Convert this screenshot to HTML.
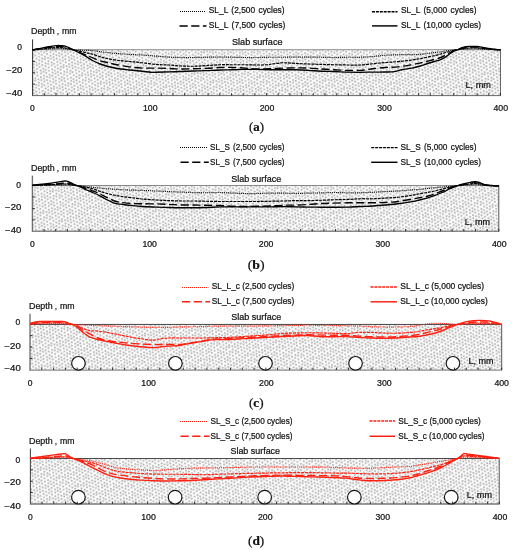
<!DOCTYPE html>
<html lang="en"><head><meta charset="utf-8"><title>Slab surface depth profiles</title>
<style>html,body{margin:0;padding:0;background:#fff;}svg{display:block;}text{font-family:"Liberation Sans", Arial, sans-serif;stroke:#111;stroke-width:0.22px;}text.cap,text.cap tspan{font-family:"Liberation Serif","Times New Roman",serif;}</style></head><body>
<svg width="512" height="550" viewBox="0 0 512 550">
<rect width="512" height="550" fill="#fff"/>
<defs><pattern id="stip" width="20.400" height="23.555" patternUnits="userSpaceOnUse" patternTransform="rotate(24)"><rect width="20.400" height="23.555" fill="#fdfdfd"/><circle cx="0.76" cy="0.85" r="0.97" fill="#ababab"/><circle cx="0.76" cy="24.40" r="0.97" fill="#ababab"/><circle cx="21.16" cy="0.85" r="0.97" fill="#ababab"/><circle cx="21.16" cy="24.40" r="0.97" fill="#ababab"/><circle cx="4.54" cy="0.77" r="0.97" fill="#ababab"/><circle cx="4.54" cy="24.33" r="0.97" fill="#ababab"/><circle cx="7.61" cy="0.87" r="0.97" fill="#ababab"/><circle cx="7.61" cy="24.43" r="0.97" fill="#ababab"/><circle cx="10.75" cy="0.81" r="0.97" fill="#ababab"/><circle cx="10.75" cy="24.36" r="0.97" fill="#ababab"/><circle cx="14.50" cy="1.03" r="0.97" fill="#ababab"/><circle cx="17.48" cy="0.64" r="0.97" fill="#ababab"/><circle cx="17.48" cy="24.20" r="0.97" fill="#ababab"/><circle cx="2.17" cy="3.99" r="0.97" fill="#ababab"/><circle cx="6.05" cy="3.38" r="0.97" fill="#ababab"/><circle cx="9.69" cy="4.12" r="0.97" fill="#ababab"/><circle cx="12.82" cy="3.84" r="0.97" fill="#ababab"/><circle cx="15.83" cy="3.36" r="0.97" fill="#ababab"/><circle cx="-0.88" cy="3.39" r="0.97" fill="#ababab"/><circle cx="19.52" cy="3.39" r="0.97" fill="#ababab"/><circle cx="0.55" cy="6.48" r="0.97" fill="#ababab"/><circle cx="20.95" cy="6.48" r="0.97" fill="#ababab"/><circle cx="3.82" cy="6.66" r="0.97" fill="#ababab"/><circle cx="7.55" cy="6.96" r="0.97" fill="#ababab"/><circle cx="11.02" cy="6.80" r="0.97" fill="#ababab"/><circle cx="14.40" cy="6.82" r="0.97" fill="#ababab"/><circle cx="17.77" cy="6.51" r="0.97" fill="#ababab"/><circle cx="2.90" cy="10.03" r="0.97" fill="#ababab"/><circle cx="6.17" cy="9.80" r="0.97" fill="#ababab"/><circle cx="9.15" cy="9.42" r="0.97" fill="#ababab"/><circle cx="12.53" cy="9.29" r="0.97" fill="#ababab"/><circle cx="16.31" cy="9.55" r="0.97" fill="#ababab"/><circle cx="-0.62" cy="9.54" r="0.97" fill="#ababab"/><circle cx="19.78" cy="9.54" r="0.97" fill="#ababab"/><circle cx="1.17" cy="12.86" r="0.97" fill="#ababab"/><circle cx="3.80" cy="12.35" r="0.97" fill="#ababab"/><circle cx="7.93" cy="12.55" r="0.97" fill="#ababab"/><circle cx="11.38" cy="12.50" r="0.97" fill="#ababab"/><circle cx="14.06" cy="12.68" r="0.97" fill="#ababab"/><circle cx="18.02" cy="12.39" r="0.97" fill="#ababab"/><circle cx="2.17" cy="15.39" r="0.97" fill="#ababab"/><circle cx="6.27" cy="15.73" r="0.97" fill="#ababab"/><circle cx="8.99" cy="15.32" r="0.97" fill="#ababab"/><circle cx="12.38" cy="15.17" r="0.97" fill="#ababab"/><circle cx="16.34" cy="15.26" r="0.97" fill="#ababab"/><circle cx="-0.85" cy="15.48" r="0.97" fill="#ababab"/><circle cx="19.55" cy="15.48" r="0.97" fill="#ababab"/><circle cx="0.55" cy="18.65" r="0.97" fill="#ababab"/><circle cx="20.95" cy="18.65" r="0.97" fill="#ababab"/><circle cx="3.90" cy="18.58" r="0.97" fill="#ababab"/><circle cx="7.29" cy="18.40" r="0.97" fill="#ababab"/><circle cx="10.77" cy="18.28" r="0.97" fill="#ababab"/><circle cx="14.78" cy="18.71" r="0.97" fill="#ababab"/><circle cx="17.64" cy="18.77" r="0.97" fill="#ababab"/><circle cx="2.27" cy="21.33" r="0.97" fill="#ababab"/><circle cx="6.18" cy="21.52" r="0.97" fill="#ababab"/><circle cx="8.98" cy="21.80" r="0.97" fill="#ababab"/><circle cx="12.47" cy="21.22" r="0.97" fill="#ababab"/><circle cx="16.32" cy="21.27" r="0.97" fill="#ababab"/><circle cx="19.34" cy="21.07" r="0.97" fill="#ababab"/></pattern></defs>
<g id="chart-a">
<rect x="32.60" y="50.00" width="467.90" height="45.50" fill="url(#stip)"/>
<path d="M32.60,49.70 H500.50" fill="none" stroke="#8e8e8e" stroke-width="1.0"/>
<path d="M500.50,49.80 V95.50" fill="none" stroke="#444" stroke-width="0.8"/>
<path d="M32.60,39.40 V96.10" fill="none" stroke="#222" stroke-width="0.95"/>
<path d="M32.60,95.60 H500.90" fill="none" stroke="#686868" stroke-width="1.0"/>
<path d="M44.30,95.50 v-2.3 M56.00,95.50 v-2.3 M67.69,95.50 v-2.3 M79.39,95.50 v-2.3 M91.09,95.50 v-2.3 M102.78,95.50 v-2.3 M114.48,95.50 v-2.3 M126.18,95.50 v-2.3 M137.88,95.50 v-2.3 M149.57,95.50 v-2.3 M161.27,95.50 v-2.3 M172.97,95.50 v-2.3 M184.67,95.50 v-2.3 M196.36,95.50 v-2.3 M208.06,95.50 v-2.3 M219.76,95.50 v-2.3 M231.46,95.50 v-2.3 M243.15,95.50 v-2.3 M254.85,95.50 v-2.3 M266.55,95.50 v-2.3 M278.25,95.50 v-2.3 M289.94,95.50 v-2.3 M301.64,95.50 v-2.3 M313.34,95.50 v-2.3 M325.04,95.50 v-2.3 M336.74,95.50 v-2.3 M348.43,95.50 v-2.3 M360.13,95.50 v-2.3 M371.83,95.50 v-2.3 M383.53,95.50 v-2.3 M395.22,95.50 v-2.3 M406.92,95.50 v-2.3 M418.62,95.50 v-2.3 M430.31,95.50 v-2.3 M442.01,95.50 v-2.3 M453.71,95.50 v-2.3 M465.41,95.50 v-2.3 M477.11,95.50 v-2.3 M488.80,95.50 v-2.3 M500.50,95.50 v-2.3 M32.60,50.00 h2.4 M32.60,61.38 h2.4 M32.60,72.75 h2.4 M32.60,84.12 h2.4" fill="none" stroke="#262626" stroke-width="0.95"/>
<path d="M32.75,49.80 C34.79,49.68 41.00,49.32 45.00,49.10 C49.00,48.88 53.54,48.57 56.75,48.50 C59.96,48.43 61.96,48.53 64.25,48.70 C66.54,48.87 68.71,49.28 70.50,49.50 C72.29,49.72 71.42,49.82 75.00,50.00 C78.58,50.18 87.08,50.23 92.00,50.60 C96.92,50.98 100.33,51.77 104.50,52.25 C108.67,52.73 112.83,53.14 117.00,53.50 C121.17,53.86 125.33,54.15 129.50,54.40 C133.67,54.65 137.58,54.72 142.00,55.00 C146.42,55.28 151.58,55.75 156.00,56.10 C160.42,56.45 164.33,56.87 168.50,57.10 C172.67,57.33 176.83,57.43 181.00,57.50 C185.17,57.57 189.33,57.54 193.50,57.50 C197.67,57.46 201.58,57.32 206.00,57.25 C210.42,57.18 215.58,57.10 220.00,57.10 C224.42,57.10 228.33,57.18 232.50,57.25 C236.67,57.32 240.83,57.46 245.00,57.50 C249.17,57.54 253.33,57.54 257.50,57.50 C261.67,57.46 265.58,57.29 270.00,57.25 C274.42,57.21 279.58,57.27 284.00,57.25 C288.42,57.23 292.33,57.12 296.50,57.10 C300.67,57.08 304.83,57.08 309.00,57.10 C313.17,57.12 317.33,57.18 321.50,57.25 C325.67,57.32 329.58,57.50 334.00,57.50 C338.42,57.50 343.58,57.29 348.00,57.25 C352.42,57.21 356.33,57.38 360.50,57.25 C364.67,57.12 368.83,56.83 373.00,56.50 C377.17,56.17 381.33,55.54 385.50,55.25 C389.67,54.96 393.58,54.86 398.00,54.75 C402.42,54.64 408.42,54.66 412.00,54.60 C415.58,54.54 417.00,54.58 419.50,54.40 C422.00,54.22 424.50,53.82 427.00,53.50 C429.50,53.18 432.21,52.77 434.50,52.50 C436.79,52.23 438.88,52.15 440.75,51.90 C442.62,51.65 444.08,51.27 445.75,51.00 C447.42,50.73 449.29,50.43 450.75,50.25 C452.21,50.07 453.25,50.01 454.50,49.90 C455.75,49.79 457.00,49.72 458.25,49.60 C459.50,49.48 460.75,49.32 462.00,49.20 C463.25,49.08 464.33,48.97 465.75,48.90 C467.17,48.83 468.67,48.82 470.50,48.80 C472.33,48.78 474.25,48.73 476.75,48.80 C479.25,48.87 482.38,49.05 485.50,49.20 C488.62,49.35 493.00,49.61 495.50,49.70 C498.00,49.79 499.67,49.74 500.50,49.75" fill="none" stroke="#000" stroke-width="1.2" stroke-dasharray="0.95 0.95"/>
<path d="M32.75,49.80 C34.79,49.60 41.00,48.97 45.00,48.60 C49.00,48.23 53.54,47.72 56.75,47.60 C59.96,47.48 61.96,47.67 64.25,47.90 C66.54,48.13 68.71,48.62 70.50,49.00 C72.29,49.38 73.33,49.80 75.00,50.20 C76.67,50.60 78.54,50.97 80.50,51.40 C82.46,51.83 84.83,52.37 86.75,52.80 C88.67,53.23 89.88,53.38 92.00,54.00 C94.12,54.62 97.00,55.75 99.50,56.50 C102.00,57.25 104.08,57.88 107.00,58.50 C109.92,59.12 113.25,59.75 117.00,60.25 C120.75,60.75 125.33,61.08 129.50,61.50 C133.67,61.92 137.58,62.27 142.00,62.75 C146.42,63.23 151.58,64.03 156.00,64.40 C160.42,64.78 164.33,64.73 168.50,65.00 C172.67,65.27 176.83,65.79 181.00,66.00 C185.17,66.21 189.33,66.32 193.50,66.25 C197.67,66.18 201.58,65.85 206.00,65.60 C210.42,65.35 215.58,64.89 220.00,64.75 C224.42,64.61 228.33,64.75 232.50,64.75 C236.67,64.75 240.83,64.71 245.00,64.75 C249.17,64.79 253.75,65.00 257.50,65.00 C261.25,65.00 264.79,64.96 267.50,64.75 C270.21,64.54 271.00,64.08 273.75,63.75 C276.50,63.42 280.21,62.79 284.00,62.75 C287.79,62.71 292.33,63.29 296.50,63.50 C300.67,63.71 304.83,63.85 309.00,64.00 C313.17,64.15 317.33,64.28 321.50,64.40 C325.67,64.53 329.58,64.65 334.00,64.75 C338.42,64.85 343.58,64.96 348.00,65.00 C352.42,65.04 356.33,65.21 360.50,65.00 C364.67,64.79 368.83,64.17 373.00,63.75 C377.17,63.33 381.33,62.86 385.50,62.50 C389.67,62.14 393.58,62.02 398.00,61.60 C402.42,61.18 408.42,60.48 412.00,60.00 C415.58,59.52 417.00,59.21 419.50,58.75 C422.00,58.29 424.50,57.77 427.00,57.25 C429.50,56.73 432.21,56.14 434.50,55.60 C436.79,55.06 438.88,54.52 440.75,54.00 C442.62,53.48 444.08,52.96 445.75,52.50 C447.42,52.04 449.29,51.63 450.75,51.25 C452.21,50.87 453.25,50.48 454.50,50.20 C455.75,49.93 457.00,49.83 458.25,49.60 C459.50,49.37 460.75,49.03 462.00,48.80 C463.25,48.57 464.33,48.33 465.75,48.20 C467.17,48.07 468.67,48.03 470.50,48.00 C472.33,47.97 474.25,47.88 476.75,48.00 C479.25,48.12 482.38,48.43 485.50,48.70 C488.62,48.97 493.00,49.43 495.50,49.60 C498.00,49.77 499.67,49.73 500.50,49.75" fill="none" stroke="#000" stroke-width="1.2" stroke-dasharray="3 0.9"/>
<path d="M32.75,49.80 C34.79,49.50 41.00,48.53 45.00,48.00 C49.00,47.47 53.54,46.78 56.75,46.60 C59.96,46.42 61.96,46.55 64.25,46.90 C66.54,47.25 68.83,48.15 70.50,48.70 C72.17,49.25 72.58,49.52 74.25,50.20 C75.92,50.88 78.42,51.95 80.50,52.80 C82.58,53.65 84.83,54.52 86.75,55.30 C88.67,56.08 89.88,56.62 92.00,57.50 C94.12,58.38 97.00,59.77 99.50,60.60 C102.00,61.43 104.08,61.81 107.00,62.50 C109.92,63.19 113.25,64.02 117.00,64.75 C120.75,65.48 125.33,66.34 129.50,66.90 C133.67,67.46 137.58,67.90 142.00,68.10 C146.42,68.30 151.58,68.03 156.00,68.10 C160.42,68.17 164.33,68.35 168.50,68.50 C172.67,68.65 176.83,68.96 181.00,69.00 C185.17,69.04 189.33,68.85 193.50,68.75 C197.67,68.65 201.58,68.61 206.00,68.40 C210.42,68.19 215.58,67.65 220.00,67.50 C224.42,67.35 228.33,67.40 232.50,67.50 C236.67,67.60 240.83,67.85 245.00,68.10 C249.17,68.35 253.33,68.89 257.50,69.00 C261.67,69.11 265.58,68.90 270.00,68.75 C274.42,68.60 279.58,68.24 284.00,68.10 C288.42,67.96 292.33,67.90 296.50,67.90 C300.67,67.90 304.83,67.92 309.00,68.10 C313.17,68.28 317.33,68.72 321.50,69.00 C325.67,69.28 329.58,69.52 334.00,69.75 C338.42,69.98 343.58,70.29 348.00,70.40 C352.42,70.51 357.38,70.51 360.50,70.40 C363.62,70.29 364.67,70.03 366.75,69.75 C368.83,69.47 369.88,69.12 373.00,68.75 C376.12,68.38 381.33,67.81 385.50,67.50 C389.67,67.19 393.58,67.38 398.00,66.90 C402.42,66.42 408.42,65.23 412.00,64.60 C415.58,63.97 417.00,63.66 419.50,63.10 C422.00,62.54 424.50,61.87 427.00,61.25 C429.50,60.63 432.21,60.02 434.50,59.40 C436.79,58.77 438.88,58.23 440.75,57.50 C442.62,56.77 444.08,55.88 445.75,55.00 C447.42,54.12 449.29,53.02 450.75,52.25 C452.21,51.48 453.25,50.84 454.50,50.40 C455.75,49.96 457.00,49.93 458.25,49.60 C459.50,49.27 460.75,48.75 462.00,48.40 C463.25,48.05 464.33,47.70 465.75,47.50 C467.17,47.30 468.67,47.25 470.50,47.20 C472.33,47.15 474.25,47.02 476.75,47.20 C479.25,47.38 482.38,47.92 485.50,48.30 C488.62,48.68 493.00,49.26 495.50,49.50 C498.00,49.74 499.67,49.71 500.50,49.75" fill="none" stroke="#000" stroke-width="1.35" stroke-dasharray="8.2 3.5"/>
<path d="M32.75,49.80 C33.62,49.63 35.96,49.20 38.00,48.80 C40.04,48.40 42.83,47.82 45.00,47.40 C47.17,46.98 49.04,46.60 51.00,46.30 C52.96,46.00 55.08,45.72 56.75,45.60 C58.42,45.48 59.75,45.55 61.00,45.60 C62.25,45.65 63.17,45.67 64.25,45.90 C65.33,46.13 66.46,46.57 67.50,47.00 C68.54,47.43 69.38,47.96 70.50,48.50 C71.62,49.04 72.58,49.42 74.25,50.25 C75.92,51.08 78.42,52.39 80.50,53.50 C82.58,54.61 84.83,55.77 86.75,56.90 C88.67,58.02 89.88,59.11 92.00,60.25 C94.12,61.39 97.00,62.75 99.50,63.75 C102.00,64.75 104.08,65.46 107.00,66.25 C109.92,67.04 113.25,67.88 117.00,68.50 C120.75,69.12 125.33,69.54 129.50,70.00 C133.67,70.46 138.46,70.88 142.00,71.25 C145.54,71.62 148.42,72.08 150.75,72.25 C153.08,72.42 153.04,72.31 156.00,72.25 C158.96,72.19 164.33,72.03 168.50,71.90 C172.67,71.78 176.83,71.65 181.00,71.50 C185.17,71.35 189.33,71.15 193.50,71.00 C197.67,70.85 201.58,70.77 206.00,70.60 C210.42,70.43 215.58,70.14 220.00,70.00 C224.42,69.86 228.33,69.85 232.50,69.75 C236.67,69.65 240.83,69.46 245.00,69.40 C249.17,69.34 253.33,69.34 257.50,69.40 C261.67,69.46 265.58,69.69 270.00,69.75 C274.42,69.81 279.58,69.75 284.00,69.75 C288.42,69.75 292.33,69.64 296.50,69.75 C300.67,69.86 304.83,70.15 309.00,70.40 C313.17,70.65 317.33,71.07 321.50,71.25 C325.67,71.43 329.58,71.34 334.00,71.50 C338.42,71.66 343.58,72.07 348.00,72.20 C352.42,72.33 356.33,72.32 360.50,72.30 C364.67,72.28 368.83,72.15 373.00,72.10 C377.17,72.05 381.96,72.07 385.50,72.00 C389.04,71.93 391.54,72.08 394.25,71.70 C396.96,71.33 398.79,70.35 401.75,69.75 C404.71,69.15 409.04,68.68 412.00,68.10 C414.96,67.52 417.00,66.97 419.50,66.25 C422.00,65.53 424.50,64.54 427.00,63.75 C429.50,62.96 432.21,62.19 434.50,61.50 C436.79,60.81 438.88,60.37 440.75,59.60 C442.62,58.83 444.08,57.98 445.75,56.90 C447.42,55.82 449.29,54.12 450.75,53.10 C452.21,52.08 453.25,51.40 454.50,50.80 C455.75,50.20 457.00,50.01 458.25,49.50 C459.50,48.99 460.75,48.22 462.00,47.75 C463.25,47.28 464.33,46.91 465.75,46.70 C467.17,46.49 468.67,46.53 470.50,46.50 C472.33,46.47 474.88,46.40 476.75,46.50 C478.62,46.60 480.29,46.87 481.75,47.10 C483.21,47.33 484.04,47.62 485.50,47.90 C486.96,48.17 488.83,48.50 490.50,48.75 C492.17,49.00 493.83,49.23 495.50,49.40 C497.17,49.57 499.67,49.69 500.50,49.75" fill="none" stroke="#000" stroke-width="1.35"/>
<path d="M180.00,11.50 H205.00" stroke="#000" stroke-width="1.0" stroke-dasharray="1 1"/>
<path d="M179.50,25.90 H206.50" stroke="#000" stroke-width="1.45" stroke-dasharray="8.2 3.5"/>
<path d="M372.00,11.75 H397.50" stroke="#000" stroke-width="1.3" stroke-dasharray="3 0.9"/>
<path d="M372.00,25.90 H397.50" stroke="#000" stroke-width="1.45"/>
<text x="208.75" y="13.30" font-size="8.5" fill="#111" textLength="75.75" lengthAdjust="spacingAndGlyphs" style="word-spacing:1.1px">SL_L (2,500 cycles)</text>
<text x="208.75" y="28.00" font-size="8.5" fill="#111" textLength="76.50" lengthAdjust="spacingAndGlyphs" style="word-spacing:1.1px">SL_L (7,500 cycles)</text>
<text x="401.00" y="13.30" font-size="8.5" fill="#111" textLength="75.50" lengthAdjust="spacingAndGlyphs" style="word-spacing:1.1px">SL_L (5,000 cycles)</text>
<text x="401.00" y="28.00" font-size="8.5" fill="#111" textLength="80.00" lengthAdjust="spacingAndGlyphs" style="word-spacing:1.1px">SL_L (10,000 cycles)</text>
<text x="232.00" y="44.50" font-size="8.5" fill="#111" textLength="50.50" lengthAdjust="spacingAndGlyphs">Slab surface</text>
<text y="34.40" font-size="8.5" fill="#111"><tspan x="31.00" textLength="23.6" lengthAdjust="spacingAndGlyphs">Depth</tspan><tspan x="56.70">,</tspan><tspan x="59.50" textLength="17" lengthAdjust="spacingAndGlyphs"> mm</tspan></text>
<text x="22.00" y="50.00" font-size="8.5" fill="#111" text-anchor="end">0</text>
<text x="6.20" y="72.70" font-size="8.5" fill="#111" textLength="16.20" lengthAdjust="spacingAndGlyphs">−20</text>
<text x="6.20" y="95.60" font-size="8.5" fill="#111" textLength="16.20" lengthAdjust="spacingAndGlyphs">−40</text>
<text x="32.30" y="111.20" font-size="8.5" fill="#111" text-anchor="middle">0</text>
<text x="142.95" y="111.20" font-size="8.5" fill="#111" textLength="14.60" lengthAdjust="spacingAndGlyphs">100</text>
<text x="259.70" y="111.20" font-size="8.5" fill="#111" textLength="14.60" lengthAdjust="spacingAndGlyphs">200</text>
<text x="377.20" y="111.20" font-size="8.5" fill="#111" textLength="14.60" lengthAdjust="spacingAndGlyphs">300</text>
<text x="493.50" y="111.20" font-size="8.5" fill="#111" textLength="14.60" lengthAdjust="spacingAndGlyphs">400</text>
<text x="465.50" y="87.60" font-size="8.5" fill="#111" textLength="25.50" lengthAdjust="spacingAndGlyphs">L, mm</text>
<text class="cap" x="249.00" y="131.00" font-size="13" fill="#111" textLength="15.00" lengthAdjust="spacingAndGlyphs">(<tspan font-weight="bold">a</tspan>)</text>
</g>
<g id="chart-b">
<rect x="32.40" y="185.60" width="466.40" height="45.70" fill="url(#stip)"/>
<path d="M32.40,185.50 H498.80" fill="none" stroke="#888" stroke-width="1.0"/>
<path d="M498.80,185.40 V231.30" fill="none" stroke="#333" stroke-width="0.8"/>
<path d="M32.40,175.60 V231.70" fill="none" stroke="#707070" stroke-width="1.35"/>
<path d="M32.40,231.20 H499.20" fill="none" stroke="#555" stroke-width="1.0"/>
<path d="M44.06,231.30 v-2.3 M55.72,231.30 v-2.3 M67.38,231.30 v-2.3 M79.04,231.30 v-2.3 M90.70,231.30 v-2.3 M102.36,231.30 v-2.3 M114.02,231.30 v-2.3 M125.68,231.30 v-2.3 M137.34,231.30 v-2.3 M149.00,231.30 v-2.3 M160.66,231.30 v-2.3 M172.32,231.30 v-2.3 M183.98,231.30 v-2.3 M195.64,231.30 v-2.3 M207.30,231.30 v-2.3 M218.96,231.30 v-2.3 M230.62,231.30 v-2.3 M242.28,231.30 v-2.3 M253.94,231.30 v-2.3 M265.60,231.30 v-2.3 M277.26,231.30 v-2.3 M288.92,231.30 v-2.3 M300.58,231.30 v-2.3 M312.24,231.30 v-2.3 M323.90,231.30 v-2.3 M335.56,231.30 v-2.3 M347.22,231.30 v-2.3 M358.88,231.30 v-2.3 M370.54,231.30 v-2.3 M382.20,231.30 v-2.3 M393.86,231.30 v-2.3 M405.52,231.30 v-2.3 M417.18,231.30 v-2.3 M428.84,231.30 v-2.3 M440.50,231.30 v-2.3 M452.16,231.30 v-2.3 M463.82,231.30 v-2.3 M475.48,231.30 v-2.3 M487.14,231.30 v-2.3 M498.80,231.30 v-2.3 M32.40,185.60 h2.4 M32.40,197.03 h2.4 M32.40,208.45 h2.4 M32.40,219.88 h2.4" fill="none" stroke="#262626" stroke-width="0.95"/>
<path d="M32.40,185.30 C34.79,185.27 42.27,185.17 46.75,185.10 C51.23,185.03 56.23,184.95 59.25,184.90 C62.27,184.85 63.44,184.82 64.90,184.80 C66.36,184.78 66.23,184.70 68.00,184.80 C69.77,184.90 73.42,185.20 75.50,185.40 C77.58,185.60 77.75,185.69 80.50,186.00 C83.25,186.31 88.00,186.83 92.00,187.25 C96.00,187.67 100.33,188.14 104.50,188.50 C108.67,188.86 112.83,189.15 117.00,189.40 C121.17,189.65 125.33,189.83 129.50,190.00 C133.67,190.17 137.58,190.23 142.00,190.40 C146.42,190.57 151.58,190.80 156.00,191.00 C160.42,191.20 164.33,191.42 168.50,191.60 C172.67,191.78 176.83,191.95 181.00,192.10 C185.17,192.25 189.33,192.39 193.50,192.50 C197.67,192.61 201.58,192.75 206.00,192.75 C210.42,192.75 215.58,192.44 220.00,192.50 C224.42,192.56 228.33,192.93 232.50,193.10 C236.67,193.27 240.83,193.43 245.00,193.50 C249.17,193.57 253.33,193.57 257.50,193.50 C261.67,193.43 265.58,193.15 270.00,193.10 C274.42,193.05 279.58,193.15 284.00,193.20 C288.42,193.25 292.33,193.42 296.50,193.40 C300.67,193.38 304.83,193.18 309.00,193.10 C313.17,193.02 317.33,193.00 321.50,192.90 C325.67,192.80 329.58,192.52 334.00,192.50 C338.42,192.48 343.58,192.76 348.00,192.80 C352.42,192.84 356.33,192.84 360.50,192.75 C364.67,192.66 368.83,192.46 373.00,192.25 C377.17,192.04 381.33,191.71 385.50,191.50 C389.67,191.29 393.58,191.27 398.00,191.00 C402.42,190.73 408.42,190.17 412.00,189.90 C415.58,189.63 417.00,189.63 419.50,189.40 C422.00,189.17 424.50,188.78 427.00,188.50 C429.50,188.22 432.00,187.98 434.50,187.75 C437.00,187.52 439.50,187.31 442.00,187.10 C444.50,186.89 447.21,186.70 449.50,186.50 C451.79,186.30 453.92,186.08 455.75,185.90 C457.58,185.72 458.67,185.57 460.50,185.40 C462.33,185.23 464.46,185.05 466.75,184.90 C469.04,184.75 472.17,184.53 474.25,184.50 C476.33,184.47 477.38,184.53 479.25,184.70 C481.12,184.87 483.42,185.32 485.50,185.50 C487.58,185.68 489.55,185.73 491.75,185.80 C493.95,185.87 497.54,185.88 498.70,185.90" fill="none" stroke="#000" stroke-width="1.2" stroke-dasharray="0.95 0.95"/>
<path d="M32.40,185.30 C34.79,185.23 42.27,185.07 46.75,184.90 C51.23,184.73 56.23,184.45 59.25,184.30 C62.27,184.15 63.44,184.03 64.90,184.00 C66.36,183.97 66.23,183.88 68.00,184.10 C69.77,184.32 73.42,184.95 75.50,185.30 C77.58,185.65 78.62,185.85 80.50,186.20 C82.38,186.55 84.83,187.02 86.75,187.40 C88.67,187.78 89.88,187.86 92.00,188.50 C94.12,189.14 97.00,190.42 99.50,191.25 C102.00,192.08 104.50,192.83 107.00,193.50 C109.50,194.17 112.00,194.75 114.50,195.25 C117.00,195.75 119.08,196.08 122.00,196.50 C124.92,196.92 128.67,197.33 132.00,197.75 C135.33,198.17 138.00,198.62 142.00,199.00 C146.00,199.38 151.58,199.73 156.00,200.00 C160.42,200.27 164.33,200.43 168.50,200.60 C172.67,200.77 176.83,200.93 181.00,201.00 C185.17,201.07 189.33,200.96 193.50,201.00 C197.67,201.04 201.58,201.17 206.00,201.25 C210.42,201.33 215.58,201.46 220.00,201.50 C224.42,201.54 228.33,201.50 232.50,201.50 C236.67,201.50 240.83,201.50 245.00,201.50 C249.17,201.50 253.33,201.54 257.50,201.50 C261.67,201.46 265.58,201.33 270.00,201.25 C274.42,201.17 279.58,201.11 284.00,201.00 C288.42,200.89 292.33,200.67 296.50,200.60 C300.67,200.53 304.83,200.66 309.00,200.60 C313.17,200.54 317.33,200.39 321.50,200.25 C325.67,200.11 329.58,199.89 334.00,199.75 C338.42,199.61 343.58,199.57 348.00,199.40 C352.42,199.23 356.33,198.86 360.50,198.75 C364.67,198.64 368.83,198.86 373.00,198.75 C377.17,198.64 381.33,198.35 385.50,198.10 C389.67,197.85 393.58,197.72 398.00,197.25 C402.42,196.78 408.42,195.88 412.00,195.30 C415.58,194.72 417.00,194.22 419.50,193.75 C422.00,193.28 424.50,192.96 427.00,192.50 C429.50,192.04 432.00,191.57 434.50,191.00 C437.00,190.43 439.50,189.72 442.00,189.10 C444.50,188.47 447.21,187.77 449.50,187.25 C451.79,186.73 453.92,186.34 455.75,186.00 C457.58,185.66 458.67,185.48 460.50,185.20 C462.33,184.92 464.46,184.58 466.75,184.30 C469.04,184.02 472.17,183.57 474.25,183.50 C476.33,183.43 477.38,183.62 479.25,183.90 C481.12,184.18 483.42,184.90 485.50,185.20 C487.58,185.50 489.55,185.58 491.75,185.70 C493.95,185.82 497.54,185.87 498.70,185.90" fill="none" stroke="#000" stroke-width="1.2" stroke-dasharray="3 0.9"/>
<path d="M32.40,185.30 C34.79,185.18 42.27,184.88 46.75,184.60 C51.23,184.32 56.23,183.87 59.25,183.60 C62.27,183.33 63.44,183.07 64.90,183.00 C66.36,182.93 66.23,182.83 68.00,183.20 C69.77,183.57 73.42,184.63 75.50,185.20 C77.58,185.77 78.62,186.03 80.50,186.60 C82.38,187.17 84.83,187.93 86.75,188.60 C88.67,189.27 89.88,189.74 92.00,190.60 C94.12,191.46 97.00,192.60 99.50,193.75 C102.00,194.90 104.50,196.29 107.00,197.50 C109.50,198.71 112.67,200.27 114.50,201.00 C116.33,201.73 116.75,201.65 118.00,201.90 C119.25,202.15 119.67,202.23 122.00,202.50 C124.33,202.77 128.67,203.29 132.00,203.50 C135.33,203.71 138.00,203.68 142.00,203.75 C146.00,203.82 151.58,203.79 156.00,203.90 C160.42,204.01 164.33,204.22 168.50,204.40 C172.67,204.58 176.83,204.90 181.00,205.00 C185.17,205.10 189.33,204.96 193.50,205.00 C197.67,205.04 201.58,205.17 206.00,205.25 C210.42,205.33 215.58,205.33 220.00,205.50 C224.42,205.67 228.33,206.08 232.50,206.25 C236.67,206.42 240.83,206.50 245.00,206.50 C249.17,206.50 253.33,206.33 257.50,206.25 C261.67,206.17 265.58,206.17 270.00,206.00 C274.42,205.83 279.58,205.42 284.00,205.25 C288.42,205.08 292.33,205.14 296.50,205.00 C300.67,204.86 304.83,204.65 309.00,204.40 C313.17,204.15 317.33,203.72 321.50,203.50 C325.67,203.28 329.58,203.22 334.00,203.10 C338.42,202.97 343.58,202.81 348.00,202.75 C352.42,202.69 356.33,202.75 360.50,202.75 C364.67,202.75 368.83,202.79 373.00,202.75 C377.17,202.71 381.33,202.71 385.50,202.50 C389.67,202.29 393.58,202.07 398.00,201.50 C402.42,200.93 408.42,199.72 412.00,199.10 C415.58,198.47 417.00,198.22 419.50,197.75 C422.00,197.28 424.50,196.88 427.00,196.25 C429.50,195.62 432.00,194.88 434.50,194.00 C437.00,193.12 439.50,191.98 442.00,191.00 C444.50,190.02 447.21,188.93 449.50,188.10 C451.79,187.27 453.92,186.52 455.75,186.00 C457.58,185.48 458.67,185.37 460.50,185.00 C462.33,184.63 464.46,184.20 466.75,183.80 C469.04,183.40 472.17,182.70 474.25,182.60 C476.33,182.50 477.38,182.80 479.25,183.20 C481.12,183.60 483.42,184.60 485.50,185.00 C487.58,185.40 489.55,185.45 491.75,185.60 C493.95,185.75 497.54,185.85 498.70,185.90" fill="none" stroke="#000" stroke-width="1.35" stroke-dasharray="8.2 3.5"/>
<path d="M32.40,185.30 C34.79,185.04 42.27,184.32 46.75,183.75 C51.23,183.18 56.54,182.32 59.25,181.90 C61.96,181.48 62.06,181.40 63.00,181.25 C63.94,181.10 64.32,181.03 64.90,181.00 C65.48,180.97 65.98,181.02 66.50,181.10 C67.02,181.18 67.17,181.17 68.00,181.50 C68.83,181.83 70.25,182.52 71.50,183.10 C72.75,183.68 74.00,184.37 75.50,185.00 C77.00,185.63 78.62,186.07 80.50,186.90 C82.38,187.73 84.83,189.12 86.75,190.00 C88.67,190.88 89.88,191.27 92.00,192.20 C94.12,193.13 97.00,194.34 99.50,195.60 C102.00,196.86 105.08,198.75 107.00,199.75 C108.92,200.75 109.75,201.04 111.00,201.60 C112.25,202.16 113.33,202.72 114.50,203.10 C115.67,203.48 116.75,203.68 118.00,203.90 C119.25,204.12 119.67,204.12 122.00,204.40 C124.33,204.68 128.67,205.25 132.00,205.60 C135.33,205.95 138.00,206.25 142.00,206.50 C146.00,206.75 151.58,206.93 156.00,207.10 C160.42,207.27 164.33,207.39 168.50,207.50 C172.67,207.61 176.83,207.71 181.00,207.75 C185.17,207.79 189.33,207.79 193.50,207.75 C197.67,207.71 201.58,207.64 206.00,207.50 C210.42,207.36 215.58,207.00 220.00,206.90 C224.42,206.80 228.33,206.90 232.50,206.90 C236.67,206.90 240.83,206.90 245.00,206.90 C249.17,206.90 253.33,206.90 257.50,206.90 C261.67,206.90 265.58,206.95 270.00,206.90 C274.42,206.85 279.58,206.60 284.00,206.60 C288.42,206.60 292.33,206.82 296.50,206.90 C300.67,206.98 304.83,207.04 309.00,207.10 C313.17,207.16 317.33,207.22 321.50,207.25 C325.67,207.28 329.58,207.28 334.00,207.25 C338.42,207.22 343.58,207.22 348.00,207.10 C352.42,206.97 356.33,206.68 360.50,206.50 C364.67,206.32 368.83,206.25 373.00,206.00 C377.17,205.75 381.33,205.38 385.50,205.00 C389.67,204.62 393.58,204.32 398.00,203.75 C402.42,203.18 408.42,202.22 412.00,201.60 C415.58,200.97 417.00,200.58 419.50,200.00 C422.00,199.42 424.50,198.83 427.00,198.10 C429.50,197.37 432.00,196.53 434.50,195.60 C437.00,194.67 439.50,193.60 442.00,192.50 C444.50,191.40 447.21,190.03 449.50,189.00 C451.79,187.97 453.92,187.01 455.75,186.30 C457.58,185.59 458.67,185.28 460.50,184.75 C462.33,184.22 465.00,183.53 466.75,183.10 C468.50,182.67 469.75,182.45 471.00,182.20 C472.25,181.95 473.33,181.67 474.25,181.60 C475.17,181.53 475.67,181.65 476.50,181.80 C477.33,181.95 477.75,182.00 479.25,182.50 C480.75,183.00 483.42,184.30 485.50,184.80 C487.58,185.30 489.55,185.32 491.75,185.50 C493.95,185.68 497.54,185.83 498.70,185.90" fill="none" stroke="#000" stroke-width="1.35"/>
<path d="M180.00,147.50 H207.25" stroke="#000" stroke-width="1.0" stroke-dasharray="1 1"/>
<path d="M180.50,162.30 H208.75" stroke="#000" stroke-width="1.45" stroke-dasharray="8.2 3.5"/>
<path d="M371.25,147.70 H397.50" stroke="#000" stroke-width="1.3" stroke-dasharray="3 0.9"/>
<path d="M371.25,162.30 H397.50" stroke="#000" stroke-width="1.45"/>
<text x="210.00" y="150.00" font-size="8.5" fill="#111" textLength="74.50" lengthAdjust="spacingAndGlyphs" style="word-spacing:1.1px">SL_S (2,500 cycles)</text>
<text x="210.00" y="164.80" font-size="8.5" fill="#111" textLength="74.50" lengthAdjust="spacingAndGlyphs" style="word-spacing:1.1px">SL_S (7,500 cycles)</text>
<text x="400.50" y="150.00" font-size="8.5" fill="#111" textLength="76.00" lengthAdjust="spacingAndGlyphs" style="word-spacing:1.1px">SL_S (5,000 cycles)</text>
<text x="400.50" y="164.80" font-size="8.5" fill="#111" textLength="80.50" lengthAdjust="spacingAndGlyphs" style="word-spacing:1.1px">SL_S (10,000 cycles)</text>
<text x="231.25" y="181.60" font-size="8.5" fill="#111" textLength="50.00" lengthAdjust="spacingAndGlyphs">Slab surface</text>
<text y="171.00" font-size="8.5" fill="#111"><tspan x="31.00" textLength="23.6" lengthAdjust="spacingAndGlyphs">Depth</tspan><tspan x="56.70">,</tspan><tspan x="59.50" textLength="17" lengthAdjust="spacingAndGlyphs"> mm</tspan></text>
<text x="20.90" y="187.60" font-size="8.5" fill="#111" text-anchor="end">0</text>
<text x="5.10" y="210.20" font-size="8.5" fill="#111" textLength="16.20" lengthAdjust="spacingAndGlyphs">−20</text>
<text x="5.10" y="232.50" font-size="8.5" fill="#111" textLength="16.20" lengthAdjust="spacingAndGlyphs">−40</text>
<text x="32.30" y="247.25" font-size="8.5" fill="#111" text-anchor="middle">0</text>
<text x="142.40" y="247.25" font-size="8.5" fill="#111" textLength="14.60" lengthAdjust="spacingAndGlyphs">100</text>
<text x="258.80" y="247.25" font-size="8.5" fill="#111" textLength="14.60" lengthAdjust="spacingAndGlyphs">200</text>
<text x="375.50" y="247.25" font-size="8.5" fill="#111" textLength="14.60" lengthAdjust="spacingAndGlyphs">300</text>
<text x="492.00" y="247.25" font-size="8.5" fill="#111" textLength="14.60" lengthAdjust="spacingAndGlyphs">400</text>
<text x="464.80" y="225.10" font-size="8.5" fill="#111" textLength="25.30" lengthAdjust="spacingAndGlyphs">L, mm</text>
<text class="cap" x="247.75" y="269.40" font-size="13" fill="#111" textLength="16.85" lengthAdjust="spacingAndGlyphs">(<tspan font-weight="bold">b</tspan>)</text>
</g>
<g id="chart-c">
<rect x="30.00" y="324.20" width="471.70" height="45.70" fill="url(#stip)"/>
<path d="M30.00,324.45 H501.70" fill="none" stroke="#3c3c3c" stroke-width="0.95"/>
<path d="M501.70,324.00 V369.90" fill="none" stroke="#444" stroke-width="0.9"/>
<path d="M30.00,313.75 V370.70" fill="none" stroke="#666" stroke-width="1.25"/>
<path d="M30.00,370.20 H502.10" fill="none" stroke="#8c8c8c" stroke-width="1.3"/>
<circle cx="78.45" cy="363.30" r="6.8" fill="#fff" stroke="#151515" stroke-width="1.2"/>
<circle cx="175.40" cy="363.30" r="6.8" fill="#fff" stroke="#151515" stroke-width="1.2"/>
<circle cx="265.50" cy="363.30" r="6.8" fill="#fff" stroke="#151515" stroke-width="1.2"/>
<circle cx="355.55" cy="363.30" r="6.8" fill="#fff" stroke="#151515" stroke-width="1.2"/>
<circle cx="452.95" cy="363.30" r="6.8" fill="#fff" stroke="#151515" stroke-width="1.2"/>
<path d="M41.79,369.90 v-2.3 M53.59,369.90 v-2.3 M65.38,369.90 v-2.3 M77.17,369.90 v-2.3 M88.96,369.90 v-2.3 M100.75,369.90 v-2.3 M112.55,369.90 v-2.3 M124.34,369.90 v-2.3 M136.13,369.90 v-2.3 M147.93,369.90 v-2.3 M159.72,369.90 v-2.3 M171.51,369.90 v-2.3 M183.30,369.90 v-2.3 M195.09,369.90 v-2.3 M206.89,369.90 v-2.3 M218.68,369.90 v-2.3 M230.47,369.90 v-2.3 M242.27,369.90 v-2.3 M254.06,369.90 v-2.3 M265.85,369.90 v-2.3 M277.64,369.90 v-2.3 M289.44,369.90 v-2.3 M301.23,369.90 v-2.3 M313.02,369.90 v-2.3 M324.81,369.90 v-2.3 M336.60,369.90 v-2.3 M348.40,369.90 v-2.3 M360.19,369.90 v-2.3 M371.98,369.90 v-2.3 M383.77,369.90 v-2.3 M395.57,369.90 v-2.3 M407.36,369.90 v-2.3 M419.15,369.90 v-2.3 M430.94,369.90 v-2.3 M442.74,369.90 v-2.3 M454.53,369.90 v-2.3 M466.32,369.90 v-2.3 M478.11,369.90 v-2.3 M489.91,369.90 v-2.3 M501.70,369.90 v-2.3 M30.00,324.20 h2.4 M30.00,335.62 h2.4 M30.00,347.05 h2.4 M30.00,358.47 h2.4" fill="none" stroke="#262626" stroke-width="0.95"/>
<path d="M30.20,324.10 C30.96,324.05 33.16,323.87 34.75,323.80 C36.34,323.73 37.04,323.72 39.75,323.70 C42.46,323.68 47.25,323.70 51.00,323.70 C54.75,323.70 59.75,323.67 62.25,323.70 C64.75,323.73 64.75,323.80 66.00,323.90 C67.25,324.00 68.08,324.18 69.75,324.30 C71.42,324.42 72.62,324.44 76.00,324.60 C79.38,324.76 85.58,325.06 90.00,325.25 C94.42,325.44 98.33,325.58 102.50,325.75 C106.67,325.92 110.83,326.08 115.00,326.25 C119.17,326.42 123.33,326.62 127.50,326.75 C131.67,326.88 135.58,326.89 140.00,327.00 C144.42,327.11 149.58,327.33 154.00,327.40 C158.42,327.47 162.33,327.47 166.50,327.40 C170.67,327.33 174.83,327.11 179.00,327.00 C183.17,326.89 187.33,326.83 191.50,326.75 C195.67,326.67 199.58,326.61 204.00,326.50 C208.42,326.39 211.50,326.17 218.00,326.10 C224.50,326.03 234.67,326.13 243.00,326.10 C251.33,326.07 261.50,325.98 268.00,325.90 C274.50,325.82 275.50,325.71 282.00,325.60 C288.50,325.49 298.67,325.27 307.00,325.25 C315.33,325.23 325.50,325.42 332.00,325.50 C338.50,325.58 341.58,325.65 346.00,325.75 C350.42,325.85 354.33,325.93 358.50,326.10 C362.67,326.27 366.83,326.60 371.00,326.75 C375.17,326.90 379.33,326.96 383.50,327.00 C387.67,327.04 391.58,327.08 396.00,327.00 C400.42,326.92 406.42,326.75 410.00,326.50 C413.58,326.25 415.00,325.88 417.50,325.50 C420.00,325.12 422.50,324.55 425.00,324.20 C427.50,323.85 430.00,323.53 432.50,323.40 C435.00,323.27 437.50,323.34 440.00,323.40 C442.50,323.46 445.21,323.61 447.50,323.75 C449.79,323.89 451.67,324.18 453.75,324.25 C455.83,324.32 457.83,324.26 460.00,324.20 C462.17,324.14 464.58,323.98 466.75,323.90 C468.92,323.82 470.92,323.75 473.00,323.70 C475.08,323.65 477.17,323.60 479.25,323.60 C481.33,323.60 483.42,323.65 485.50,323.70 C487.58,323.75 489.67,323.82 491.75,323.90 C493.83,323.98 496.33,324.12 498.00,324.20 C499.67,324.28 501.12,324.37 501.75,324.40" fill="none" stroke="#ff2010" stroke-width="1.2" stroke-dasharray="0.95 0.95"/>
<path d="M30.20,324.00 C30.96,323.88 33.16,323.47 34.75,323.30 C36.34,323.13 37.04,323.05 39.75,323.00 C42.46,322.95 47.25,323.00 51.00,323.00 C54.75,323.00 59.75,322.95 62.25,323.00 C64.75,323.05 64.75,323.13 66.00,323.30 C67.25,323.47 68.08,323.68 69.75,324.00 C71.42,324.32 74.12,324.67 76.00,325.25 C77.88,325.83 79.33,326.77 81.00,327.50 C82.67,328.23 84.50,329.07 86.00,329.60 C87.50,330.13 88.08,330.45 90.00,330.70 C91.92,330.95 95.00,330.88 97.50,331.10 C100.00,331.32 102.08,331.52 105.00,332.00 C107.92,332.48 111.25,333.25 115.00,334.00 C118.75,334.75 123.33,335.73 127.50,336.50 C131.67,337.27 135.58,338.00 140.00,338.60 C144.42,339.20 150.42,340.10 154.00,340.10 C157.58,340.10 159.00,338.95 161.50,338.60 C164.00,338.25 166.08,338.10 169.00,338.00 C171.92,337.90 175.25,338.00 179.00,338.00 C182.75,338.00 187.33,338.00 191.50,338.00 C195.67,338.00 199.58,338.07 204.00,338.00 C208.42,337.93 213.58,337.70 218.00,337.60 C222.42,337.50 226.33,337.58 230.50,337.40 C234.67,337.22 238.83,336.77 243.00,336.50 C247.17,336.23 251.33,336.02 255.50,335.75 C259.67,335.48 263.58,335.27 268.00,334.90 C272.42,334.52 275.50,333.86 282.00,333.50 C288.50,333.14 298.67,332.79 307.00,332.75 C315.33,332.71 325.50,333.11 332.00,333.25 C338.50,333.39 341.58,333.74 346.00,333.60 C350.42,333.46 354.33,332.60 358.50,332.40 C362.67,332.20 366.83,332.30 371.00,332.40 C375.17,332.50 379.33,332.86 383.50,333.00 C387.67,333.14 391.58,333.34 396.00,333.25 C400.42,333.16 406.42,332.74 410.00,332.45 C413.58,332.16 415.00,331.87 417.50,331.50 C420.00,331.13 422.50,330.67 425.00,330.25 C427.50,329.83 430.00,329.42 432.50,329.00 C435.00,328.58 437.50,328.21 440.00,327.75 C442.50,327.29 445.21,326.71 447.50,326.25 C449.79,325.79 451.67,325.34 453.75,325.00 C455.83,324.66 457.83,324.45 460.00,324.20 C462.17,323.95 464.58,323.68 466.75,323.50 C468.92,323.32 470.92,323.18 473.00,323.10 C475.08,323.02 477.17,323.00 479.25,323.00 C481.33,323.00 483.42,323.02 485.50,323.10 C487.58,323.18 489.67,323.35 491.75,323.50 C493.83,323.65 496.33,323.85 498.00,324.00 C499.67,324.15 501.12,324.33 501.75,324.40" fill="none" stroke="#ff2010" stroke-width="1.2" stroke-dasharray="3 0.9"/>
<path d="M30.20,323.80 C30.96,323.63 33.16,323.05 34.75,322.80 C36.34,322.55 37.04,322.38 39.75,322.30 C42.46,322.22 47.25,322.30 51.00,322.30 C54.75,322.30 59.75,322.23 62.25,322.30 C64.75,322.37 64.75,322.43 66.00,322.70 C67.25,322.97 68.50,323.52 69.75,323.90 C71.00,324.28 72.04,324.47 73.50,325.00 C74.96,325.53 76.83,326.18 78.50,327.10 C80.17,328.02 81.58,329.37 83.50,330.50 C85.42,331.63 87.67,332.69 90.00,333.90 C92.33,335.11 95.00,336.69 97.50,337.75 C100.00,338.81 102.08,339.58 105.00,340.25 C107.92,340.92 111.25,341.29 115.00,341.75 C118.75,342.21 123.33,342.62 127.50,343.00 C131.67,343.38 135.58,343.73 140.00,344.00 C144.42,344.27 150.42,344.52 154.00,344.60 C157.58,344.68 159.00,344.52 161.50,344.50 C164.00,344.48 166.08,344.50 169.00,344.50 C171.92,344.50 176.08,344.65 179.00,344.50 C181.92,344.35 184.00,343.95 186.50,343.60 C189.00,343.25 191.08,342.88 194.00,342.40 C196.92,341.92 201.08,341.18 204.00,340.70 C206.92,340.22 209.17,339.78 211.50,339.50 C213.83,339.22 212.75,339.29 218.00,339.00 C223.25,338.71 234.67,338.17 243.00,337.75 C251.33,337.33 261.50,336.86 268.00,336.50 C274.50,336.14 275.50,335.88 282.00,335.60 C288.50,335.32 298.67,334.87 307.00,334.80 C315.33,334.73 325.50,335.12 332.00,335.20 C338.50,335.27 341.58,335.10 346.00,335.25 C350.42,335.40 354.33,335.85 358.50,336.10 C362.67,336.35 366.83,336.60 371.00,336.75 C375.17,336.90 379.33,337.00 383.50,337.00 C387.67,337.00 391.58,336.97 396.00,336.75 C400.42,336.53 406.42,336.06 410.00,335.70 C413.58,335.34 415.00,335.05 417.50,334.60 C420.00,334.15 422.50,333.56 425.00,333.00 C427.50,332.44 430.00,331.88 432.50,331.25 C435.00,330.62 437.50,329.94 440.00,329.25 C442.50,328.56 445.21,327.77 447.50,327.10 C449.79,326.43 451.67,325.77 453.75,325.25 C455.83,324.73 457.83,324.39 460.00,324.00 C462.17,323.61 464.58,323.20 466.75,322.90 C468.92,322.60 470.92,322.37 473.00,322.20 C475.08,322.03 477.17,321.93 479.25,321.90 C481.33,321.87 483.42,321.88 485.50,322.00 C487.58,322.12 489.67,322.33 491.75,322.60 C493.83,322.87 496.33,323.30 498.00,323.60 C499.67,323.90 501.12,324.27 501.75,324.40" fill="none" stroke="#ff2010" stroke-width="1.4" stroke-dasharray="8.2 3.5"/>
<path d="M30.20,323.60 C30.58,323.45 31.74,322.95 32.50,322.70 C33.26,322.45 33.54,322.30 34.75,322.10 C35.96,321.90 37.04,321.60 39.75,321.50 C42.46,321.40 47.25,321.50 51.00,321.50 C54.75,321.50 59.75,321.40 62.25,321.50 C64.75,321.60 64.75,321.73 66.00,322.10 C67.25,322.48 68.50,323.27 69.75,323.75 C71.00,324.23 72.04,324.23 73.50,325.00 C74.96,325.77 76.83,327.11 78.50,328.40 C80.17,329.69 82.04,331.57 83.50,332.75 C84.96,333.93 86.17,334.76 87.25,335.50 C88.33,336.24 88.29,336.53 90.00,337.20 C91.71,337.87 95.00,338.85 97.50,339.50 C100.00,340.15 102.08,340.52 105.00,341.10 C107.92,341.68 111.25,342.31 115.00,343.00 C118.75,343.69 123.33,344.62 127.50,345.25 C131.67,345.88 135.58,346.36 140.00,346.75 C144.42,347.14 150.42,347.60 154.00,347.60 C157.58,347.60 159.00,347.00 161.50,346.75 C164.00,346.50 166.08,346.31 169.00,346.10 C171.92,345.89 176.08,345.85 179.00,345.50 C181.92,345.15 184.00,344.46 186.50,344.00 C189.00,343.54 191.08,343.23 194.00,342.75 C196.92,342.27 201.08,341.58 204.00,341.10 C206.92,340.62 209.17,340.15 211.50,339.90 C213.83,339.65 214.83,339.67 218.00,339.60 C221.17,339.53 226.33,339.67 230.50,339.50 C234.67,339.33 238.83,338.85 243.00,338.60 C247.17,338.35 251.33,338.20 255.50,338.00 C259.67,337.80 263.58,337.63 268.00,337.40 C272.42,337.17 277.67,336.83 282.00,336.60 C286.33,336.37 289.83,336.18 294.00,336.00 C298.17,335.82 302.75,335.42 307.00,335.50 C311.25,335.58 315.33,336.29 319.50,336.50 C323.67,336.71 327.58,336.73 332.00,336.75 C336.42,336.77 341.58,336.49 346.00,336.60 C350.42,336.71 354.33,337.17 358.50,337.40 C362.67,337.63 366.83,337.86 371.00,338.00 C375.17,338.14 379.33,338.25 383.50,338.25 C387.67,338.25 391.58,338.21 396.00,338.00 C400.42,337.79 406.42,337.25 410.00,337.00 C413.58,336.75 415.00,336.79 417.50,336.50 C420.00,336.21 422.50,335.71 425.00,335.25 C427.50,334.79 430.00,334.38 432.50,333.75 C435.00,333.12 437.50,332.39 440.00,331.50 C442.50,330.61 445.21,329.33 447.50,328.40 C449.79,327.47 451.67,326.68 453.75,325.90 C455.83,325.12 457.83,324.42 460.00,323.70 C462.17,322.98 464.58,322.10 466.75,321.60 C468.92,321.10 470.92,320.90 473.00,320.70 C475.08,320.50 477.17,320.42 479.25,320.40 C481.33,320.38 483.42,320.42 485.50,320.60 C487.58,320.78 489.67,321.08 491.75,321.50 C493.83,321.92 496.33,322.62 498.00,323.10 C499.67,323.58 501.12,324.18 501.75,324.40" fill="none" stroke="#ff2010" stroke-width="1.4"/>
<path d="M182.00,287.50 H208.50" stroke="#ff2010" stroke-width="1.0" stroke-dasharray="1 1"/>
<path d="M182.00,301.80 H210.00" stroke="#ff2010" stroke-width="1.45" stroke-dasharray="8.2 3.5"/>
<path d="M370.50,287.00 H397.00" stroke="#ff2010" stroke-width="1.3" stroke-dasharray="3 0.9"/>
<path d="M370.50,301.80 H397.00" stroke="#ff2010" stroke-width="1.45"/>
<text x="211.75" y="289.00" font-size="8.5" fill="#111" textLength="82.50" lengthAdjust="spacingAndGlyphs">SL_L_c (2,500 cycles)</text>
<text x="211.75" y="304.00" font-size="8.5" fill="#111" textLength="82.50" lengthAdjust="spacingAndGlyphs">SL_L_c (7,500 cycles)</text>
<text x="400.25" y="289.00" font-size="8.5" fill="#111" textLength="83.75" lengthAdjust="spacingAndGlyphs">SL_L_c (5,000 cycles)</text>
<text x="400.25" y="304.00" font-size="8.5" fill="#111" textLength="87.50" lengthAdjust="spacingAndGlyphs">SL_L_c (10,000 cycles)</text>
<text x="231.25" y="319.50" font-size="8.5" fill="#111" textLength="50.00" lengthAdjust="spacingAndGlyphs">Slab surface</text>
<text y="308.75" font-size="8.5" fill="#111"><tspan x="29.00" textLength="23.6" lengthAdjust="spacingAndGlyphs">Depth</tspan><tspan x="54.70">,</tspan><tspan x="57.50" textLength="17" lengthAdjust="spacingAndGlyphs"> mm</tspan></text>
<text x="20.30" y="325.25" font-size="8.5" fill="#111" text-anchor="end">0</text>
<text x="4.50" y="348.50" font-size="8.5" fill="#111" textLength="16.20" lengthAdjust="spacingAndGlyphs">−20</text>
<text x="4.50" y="371.00" font-size="8.5" fill="#111" textLength="16.20" lengthAdjust="spacingAndGlyphs">−40</text>
<text x="30.00" y="385.50" font-size="8.5" fill="#111" text-anchor="middle">0</text>
<text x="141.30" y="385.50" font-size="8.5" fill="#111" textLength="14.60" lengthAdjust="spacingAndGlyphs">100</text>
<text x="259.10" y="385.50" font-size="8.5" fill="#111" textLength="14.60" lengthAdjust="spacingAndGlyphs">200</text>
<text x="377.10" y="385.50" font-size="8.5" fill="#111" textLength="14.60" lengthAdjust="spacingAndGlyphs">300</text>
<text x="494.40" y="385.50" font-size="8.5" fill="#111" textLength="14.60" lengthAdjust="spacingAndGlyphs">400</text>
<text x="468.60" y="363.60" font-size="8.5" fill="#111" textLength="25.00" lengthAdjust="spacingAndGlyphs">L, mm</text>
<text class="cap" x="249.00" y="407.25" font-size="13" fill="#111" textLength="14.60" lengthAdjust="spacingAndGlyphs">(<tspan font-weight="bold">c</tspan>)</text>
</g>
<g id="chart-d">
<rect x="30.40" y="458.60" width="468.90" height="45.30" fill="url(#stip)"/>
<path d="M30.40,458.50 H499.30" fill="none" stroke="#4a4a4a" stroke-width="1.0"/>
<path d="M499.30,458.40 V503.90" fill="none" stroke="#777" stroke-width="1.2"/>
<path d="M30.40,448.40 V504.50" fill="none" stroke="#444" stroke-width="1.05"/>
<path d="M30.40,504.00 H499.70" fill="none" stroke="#777" stroke-width="1.3"/>
<circle cx="78.40" cy="497.20" r="6.8" fill="#fff" stroke="#151515" stroke-width="1.2"/>
<circle cx="175.10" cy="497.20" r="6.8" fill="#fff" stroke="#151515" stroke-width="1.2"/>
<circle cx="264.65" cy="497.20" r="6.8" fill="#fff" stroke="#151515" stroke-width="1.2"/>
<circle cx="354.35" cy="497.20" r="6.8" fill="#fff" stroke="#151515" stroke-width="1.2"/>
<circle cx="451.20" cy="497.20" r="6.8" fill="#fff" stroke="#151515" stroke-width="1.2"/>
<path d="M42.12,503.90 v-2.3 M53.84,503.90 v-2.3 M65.57,503.90 v-2.3 M77.29,503.90 v-2.3 M89.01,503.90 v-2.3 M100.74,503.90 v-2.3 M112.46,503.90 v-2.3 M124.18,503.90 v-2.3 M135.90,503.90 v-2.3 M147.62,503.90 v-2.3 M159.35,503.90 v-2.3 M171.07,503.90 v-2.3 M182.79,503.90 v-2.3 M194.52,503.90 v-2.3 M206.24,503.90 v-2.3 M217.96,503.90 v-2.3 M229.68,503.90 v-2.3 M241.41,503.90 v-2.3 M253.13,503.90 v-2.3 M264.85,503.90 v-2.3 M276.57,503.90 v-2.3 M288.30,503.90 v-2.3 M300.02,503.90 v-2.3 M311.74,503.90 v-2.3 M323.46,503.90 v-2.3 M335.19,503.90 v-2.3 M346.91,503.90 v-2.3 M358.63,503.90 v-2.3 M370.35,503.90 v-2.3 M382.08,503.90 v-2.3 M393.80,503.90 v-2.3 M405.52,503.90 v-2.3 M417.24,503.90 v-2.3 M428.96,503.90 v-2.3 M440.69,503.90 v-2.3 M452.41,503.90 v-2.3 M464.13,503.90 v-2.3 M475.86,503.90 v-2.3 M487.58,503.90 v-2.3 M499.30,503.90 v-2.3 M30.40,458.60 h2.4 M30.40,469.93 h2.4 M30.40,481.25 h2.4 M30.40,492.57 h2.4" fill="none" stroke="#262626" stroke-width="0.95"/>
<path d="M30.40,458.50 C32.79,458.45 40.27,458.30 44.75,458.20 C49.23,458.10 54.02,457.98 57.25,457.90 C60.48,457.82 62.54,457.72 64.10,457.70 C65.66,457.68 65.45,457.70 66.60,457.80 C67.75,457.90 69.64,458.13 71.00,458.30 C72.36,458.47 73.29,458.63 74.75,458.80 C76.21,458.97 78.08,459.12 79.75,459.30 C81.42,459.48 83.04,459.70 84.75,459.90 C86.46,460.10 87.88,460.11 90.00,460.50 C92.12,460.89 95.00,461.58 97.50,462.25 C100.00,462.92 102.50,463.75 105.00,464.50 C107.50,465.25 110.00,466.12 112.50,466.75 C115.00,467.38 117.08,467.83 120.00,468.25 C122.92,468.67 126.67,469.00 130.00,469.25 C133.33,469.50 136.00,469.52 140.00,469.75 C144.00,469.98 149.58,470.60 154.00,470.60 C158.42,470.60 162.33,470.03 166.50,469.75 C170.67,469.47 174.83,469.15 179.00,468.90 C183.17,468.65 187.33,468.40 191.50,468.25 C195.67,468.10 199.58,468.07 204.00,468.00 C208.42,467.93 213.58,467.87 218.00,467.80 C222.42,467.73 226.33,467.69 230.50,467.60 C234.67,467.51 238.83,467.35 243.00,467.25 C247.17,467.15 251.33,467.04 255.50,467.00 C259.67,466.96 263.58,467.00 268.00,467.00 C272.42,467.00 275.50,467.00 282.00,467.00 C288.50,467.00 298.67,466.96 307.00,467.00 C315.33,467.04 325.50,467.08 332.00,467.25 C338.50,467.42 341.58,467.83 346.00,468.00 C350.42,468.17 354.33,468.21 358.50,468.25 C362.67,468.29 366.83,468.36 371.00,468.25 C375.17,468.14 379.33,467.81 383.50,467.60 C387.67,467.39 391.58,467.19 396.00,467.00 C400.42,466.81 406.42,466.74 410.00,466.45 C413.58,466.16 415.00,465.66 417.50,465.25 C420.00,464.84 422.50,464.42 425.00,464.00 C427.50,463.58 430.00,463.17 432.50,462.75 C435.00,462.33 437.50,461.92 440.00,461.50 C442.50,461.08 445.21,460.62 447.50,460.25 C449.79,459.88 451.98,459.54 453.75,459.25 C455.52,458.96 456.85,458.73 458.10,458.50 C459.35,458.27 460.27,458.12 461.25,457.90 C462.23,457.68 462.88,457.30 464.00,457.20 C465.12,457.10 465.46,457.22 468.00,457.30 C470.54,457.38 475.71,457.57 479.25,457.70 C482.79,457.83 485.92,457.98 489.25,458.10 C492.58,458.22 497.58,458.35 499.25,458.40" fill="none" stroke="#ff2010" stroke-width="1.2" stroke-dasharray="0.95 0.95"/>
<path d="M30.40,458.40 C32.79,458.28 40.27,457.92 44.75,457.70 C49.23,457.48 54.02,457.25 57.25,457.10 C60.48,456.95 62.54,456.83 64.10,456.80 C65.66,456.77 65.45,456.70 66.60,456.90 C67.75,457.10 69.64,457.67 71.00,458.00 C72.36,458.33 73.29,458.58 74.75,458.90 C76.21,459.22 78.08,459.55 79.75,459.90 C81.42,460.25 83.04,460.63 84.75,461.00 C86.46,461.37 87.88,461.52 90.00,462.10 C92.12,462.68 95.00,463.58 97.50,464.50 C100.00,465.42 102.50,466.67 105.00,467.60 C107.50,468.53 110.00,469.41 112.50,470.10 C115.00,470.79 117.08,471.33 120.00,471.75 C122.92,472.17 126.67,472.31 130.00,472.60 C133.33,472.89 136.00,473.25 140.00,473.50 C144.00,473.75 149.58,473.98 154.00,474.10 C158.42,474.23 162.33,474.23 166.50,474.25 C170.67,474.27 174.83,474.21 179.00,474.25 C183.17,474.29 187.33,474.42 191.50,474.50 C195.67,474.58 199.58,474.79 204.00,474.75 C208.42,474.71 213.58,474.39 218.00,474.25 C222.42,474.11 226.33,474.02 230.50,473.90 C234.67,473.77 238.83,473.61 243.00,473.50 C247.17,473.39 251.33,473.33 255.50,473.25 C259.67,473.17 263.58,473.07 268.00,473.00 C272.42,472.93 275.50,472.87 282.00,472.80 C288.50,472.73 298.67,472.57 307.00,472.60 C315.33,472.63 325.50,472.92 332.00,473.00 C338.50,473.08 341.58,473.02 346.00,473.10 C350.42,473.18 354.33,473.37 358.50,473.50 C362.67,473.63 366.83,473.83 371.00,473.90 C375.17,473.97 379.33,474.01 383.50,473.90 C387.67,473.79 391.58,473.61 396.00,473.25 C400.42,472.89 406.42,472.25 410.00,471.75 C413.58,471.25 415.00,470.77 417.50,470.25 C420.00,469.73 422.50,469.18 425.00,468.60 C427.50,468.02 430.00,467.37 432.50,466.75 C435.00,466.13 437.50,465.62 440.00,464.90 C442.50,464.17 445.21,463.23 447.50,462.40 C449.79,461.57 451.98,460.57 453.75,459.90 C455.52,459.23 456.85,458.85 458.10,458.40 C459.35,457.95 460.27,457.60 461.25,457.20 C462.23,456.80 462.88,456.17 464.00,456.00 C465.12,455.83 465.46,456.03 468.00,456.20 C470.54,456.37 475.71,456.75 479.25,457.00 C482.79,457.25 485.92,457.47 489.25,457.70 C492.58,457.93 497.58,458.28 499.25,458.40" fill="none" stroke="#ff2010" stroke-width="1.2" stroke-dasharray="3 0.9"/>
<path d="M30.40,458.30 C32.79,458.13 40.27,457.62 44.75,457.30 C49.23,456.98 54.02,456.65 57.25,456.40 C60.48,456.15 62.54,455.87 64.10,455.80 C65.66,455.73 65.45,455.65 66.60,456.00 C67.75,456.35 69.64,457.40 71.00,457.90 C72.36,458.40 73.29,458.55 74.75,459.00 C76.21,459.45 78.08,460.07 79.75,460.60 C81.42,461.13 83.04,461.65 84.75,462.20 C86.46,462.75 87.88,463.00 90.00,463.90 C92.12,464.80 95.00,466.35 97.50,467.60 C100.00,468.85 102.50,470.35 105.00,471.40 C107.50,472.45 110.00,473.28 112.50,473.90 C115.00,474.52 117.08,474.68 120.00,475.10 C122.92,475.52 126.67,476.04 130.00,476.40 C133.33,476.76 136.00,476.92 140.00,477.25 C144.00,477.58 149.58,478.12 154.00,478.40 C158.42,478.67 162.33,478.82 166.50,478.90 C170.67,478.98 174.83,478.97 179.00,478.90 C183.17,478.83 187.33,478.61 191.50,478.50 C195.67,478.39 199.58,478.40 204.00,478.25 C208.42,478.10 213.58,477.81 218.00,477.60 C222.42,477.39 226.33,477.20 230.50,477.00 C234.67,476.80 238.83,476.61 243.00,476.40 C247.17,476.19 251.33,475.90 255.50,475.75 C259.67,475.60 263.58,475.61 268.00,475.50 C272.42,475.39 275.50,475.10 282.00,475.10 C288.50,475.10 298.67,475.39 307.00,475.50 C315.33,475.61 325.50,475.57 332.00,475.75 C338.50,475.93 341.58,476.23 346.00,476.60 C350.42,476.98 354.33,477.68 358.50,478.00 C362.67,478.32 366.83,478.46 371.00,478.50 C375.17,478.54 379.33,478.40 383.50,478.25 C387.67,478.10 391.58,477.98 396.00,477.60 C400.42,477.23 406.42,476.56 410.00,476.00 C413.58,475.44 415.00,474.96 417.50,474.25 C420.00,473.54 422.50,472.58 425.00,471.75 C427.50,470.92 430.00,470.12 432.50,469.25 C435.00,468.38 437.50,467.54 440.00,466.50 C442.50,465.46 445.21,464.04 447.50,463.00 C449.79,461.96 451.98,461.03 453.75,460.25 C455.52,459.47 456.85,458.93 458.10,458.30 C459.35,457.68 460.27,457.08 461.25,456.50 C462.23,455.92 462.88,455.02 464.00,454.80 C465.12,454.58 465.46,454.95 468.00,455.20 C470.54,455.45 475.71,455.93 479.25,456.30 C482.79,456.67 485.92,457.05 489.25,457.40 C492.58,457.75 497.58,458.23 499.25,458.40" fill="none" stroke="#ff2010" stroke-width="1.4" stroke-dasharray="8.2 3.5"/>
<path d="M30.40,458.20 C32.79,457.85 40.27,456.72 44.75,456.10 C49.23,455.48 54.38,454.87 57.25,454.50 C60.12,454.13 60.86,454.05 62.00,453.90 C63.14,453.75 63.53,453.62 64.10,453.60 C64.67,453.58 64.98,453.69 65.40,453.80 C65.82,453.91 66.00,453.88 66.60,454.25 C67.20,454.62 68.27,455.48 69.00,456.00 C69.73,456.52 70.04,456.90 71.00,457.40 C71.96,457.90 73.29,458.38 74.75,459.00 C76.21,459.62 78.08,460.33 79.75,461.10 C81.42,461.87 83.04,462.73 84.75,463.60 C86.46,464.47 87.88,465.22 90.00,466.30 C92.12,467.38 95.00,468.83 97.50,470.10 C100.00,471.37 102.50,472.85 105.00,473.90 C107.50,474.95 110.00,475.72 112.50,476.40 C115.00,477.08 117.08,477.52 120.00,478.00 C122.92,478.48 126.67,478.90 130.00,479.25 C133.33,479.60 136.00,479.85 140.00,480.10 C144.00,480.35 149.58,480.60 154.00,480.75 C158.42,480.90 162.33,481.00 166.50,481.00 C170.67,481.00 174.83,480.83 179.00,480.75 C183.17,480.67 187.33,480.67 191.50,480.50 C195.67,480.33 199.58,480.02 204.00,479.75 C208.42,479.48 213.58,479.15 218.00,478.90 C222.42,478.65 226.33,478.50 230.50,478.25 C234.67,478.00 238.83,477.65 243.00,477.40 C247.17,477.15 251.33,476.92 255.50,476.75 C259.67,476.58 263.58,476.52 268.00,476.40 C272.42,476.27 277.58,476.00 282.00,476.00 C286.42,476.00 290.33,476.27 294.50,476.40 C298.67,476.52 302.83,476.65 307.00,476.75 C311.17,476.85 315.33,476.86 319.50,477.00 C323.67,477.14 327.58,477.42 332.00,477.60 C336.42,477.78 342.42,477.83 346.00,478.10 C349.58,478.38 351.00,478.92 353.50,479.25 C356.00,479.58 358.08,479.85 361.00,480.10 C363.92,480.35 367.25,480.68 371.00,480.75 C374.75,480.82 379.33,480.67 383.50,480.50 C387.67,480.33 392.67,480.02 396.00,479.75 C399.33,479.48 401.17,479.22 403.50,478.90 C405.83,478.57 407.67,478.32 410.00,477.80 C412.33,477.28 415.00,476.45 417.50,475.75 C420.00,475.05 422.50,474.38 425.00,473.60 C427.50,472.83 430.00,472.03 432.50,471.10 C435.00,470.17 437.50,469.14 440.00,468.00 C442.50,466.86 445.21,465.50 447.50,464.25 C449.79,463.00 451.98,461.52 453.75,460.50 C455.52,459.48 456.85,458.89 458.10,458.10 C459.35,457.31 460.40,456.43 461.25,455.75 C462.10,455.07 462.74,454.38 463.20,454.00 C463.66,453.62 463.67,453.55 464.00,453.50 C464.33,453.45 464.53,453.60 465.20,453.70 C465.87,453.80 465.66,453.78 468.00,454.10 C470.34,454.42 475.71,455.12 479.25,455.60 C482.79,456.08 485.92,456.53 489.25,457.00 C492.58,457.47 497.58,458.17 499.25,458.40" fill="none" stroke="#ff2010" stroke-width="1.4"/>
<path d="M180.00,421.50 H208.00" stroke="#ff2010" stroke-width="1.0" stroke-dasharray="1 1"/>
<path d="M180.50,436.25 H209.50" stroke="#ff2010" stroke-width="1.45" stroke-dasharray="8.2 3.5"/>
<path d="M369.50,421.00 H395.00" stroke="#ff2010" stroke-width="1.3" stroke-dasharray="3 0.9"/>
<path d="M369.50,436.25 H395.00" stroke="#ff2010" stroke-width="1.45"/>
<text x="210.50" y="423.75" font-size="8.5" fill="#111" textLength="82.00" lengthAdjust="spacingAndGlyphs">SL_S_c (2,500 cycles)</text>
<text x="210.50" y="438.75" font-size="8.5" fill="#111" textLength="82.00" lengthAdjust="spacingAndGlyphs">SL_S_c (7,500 cycles)</text>
<text x="398.25" y="423.75" font-size="8.5" fill="#111" textLength="82.50" lengthAdjust="spacingAndGlyphs">SL_S_c (5,000 cycles)</text>
<text x="398.25" y="438.75" font-size="8.5" fill="#111" textLength="86.25" lengthAdjust="spacingAndGlyphs">SL_S_c (10,000 cycles)</text>
<text x="230.50" y="454.25" font-size="8.5" fill="#111" textLength="49.50" lengthAdjust="spacingAndGlyphs">Slab surface</text>
<text y="443.50" font-size="8.5" fill="#111"><tspan x="29.00" textLength="23.6" lengthAdjust="spacingAndGlyphs">Depth</tspan><tspan x="54.70">,</tspan><tspan x="57.50" textLength="17" lengthAdjust="spacingAndGlyphs"> mm</tspan></text>
<text x="20.30" y="462.75" font-size="8.5" fill="#111" text-anchor="end">0</text>
<text x="4.50" y="485.40" font-size="8.5" fill="#111" textLength="16.20" lengthAdjust="spacingAndGlyphs">−20</text>
<text x="4.50" y="508.50" font-size="8.5" fill="#111" textLength="16.20" lengthAdjust="spacingAndGlyphs">−40</text>
<text x="30.40" y="519.50" font-size="8.5" fill="#111" text-anchor="middle">0</text>
<text x="141.20" y="519.50" font-size="8.5" fill="#111" textLength="14.60" lengthAdjust="spacingAndGlyphs">100</text>
<text x="258.00" y="519.50" font-size="8.5" fill="#111" textLength="14.60" lengthAdjust="spacingAndGlyphs">200</text>
<text x="375.50" y="519.50" font-size="8.5" fill="#111" textLength="14.60" lengthAdjust="spacingAndGlyphs">300</text>
<text x="492.70" y="519.50" font-size="8.5" fill="#111" textLength="14.60" lengthAdjust="spacingAndGlyphs">400</text>
<text x="466.75" y="497.90" font-size="8.5" fill="#111" textLength="25.25" lengthAdjust="spacingAndGlyphs">L, mm</text>
<text class="cap" x="248.00" y="545.20" font-size="13" fill="#111" textLength="16.25" lengthAdjust="spacingAndGlyphs">(<tspan font-weight="bold">d</tspan>)</text>
</g>
</svg></body></html>
